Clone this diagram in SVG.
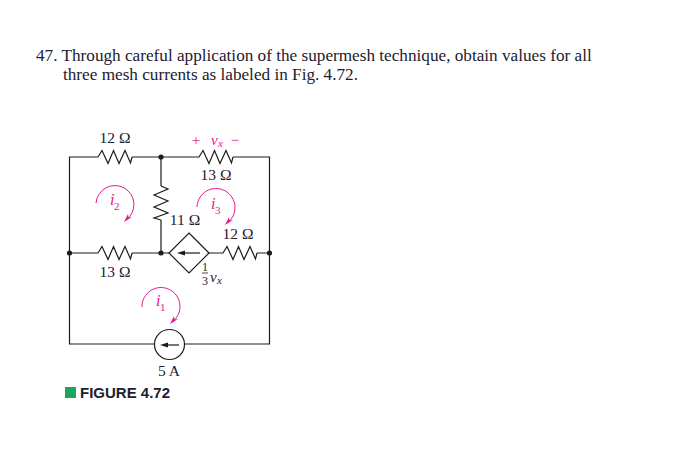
<svg xmlns="http://www.w3.org/2000/svg" width="675" height="466" viewBox="0 0 675 466">
<style>
text{font-family:"Liberation Serif","Times New Roman",serif;fill:#1d2030}
.body{font-size:17.2px}
.val{font-size:15.500px}
.m{fill:#e6168c;font-style:italic;font-size:16px}
.sub{fill:#e6168c;font-size:11px}
.w{fill:none;stroke:#1c1c1c;stroke-width:1.2}
.loop{fill:none;stroke:#e6168c;stroke-width:1}
.ah{fill:#e6168c;stroke:none}
.dot{fill:#1c1c1c}
</style>
<defs>
<path id="rh" class="w" d="M0 0H1L5-6.500 11 6.500 16.500-6.500 22 6.500 28-6.500 33.500 6 35 0"/>
</defs>
<rect width="675" height="466" fill="#fff"/>
<text class="body" x="36" y="61">47. Through careful application of the supermesh technique, obtain values for all</text>
<text class="body" x="63" y="80">three mesh currents as labeled in Fig. 4.72.</text>
<g id="connectors">
<path class="w" d="M97 157H69.500V344H155M132 157H198M233 157H269.500V344H185M69.500 253H97M132 253H169M209 253H222M257 253H269.500M161 157V186M161 220V253"/>
</g>
<g id="R1"><use href="#rh" x="97" y="157"/><text class="val" x="115" y="143" text-anchor="middle">12 Ω</text></g>
<g id="R2"><use href="#rh" x="198" y="157"/><text class="val" x="216" y="180" text-anchor="middle">13 Ω</text></g>
<g id="R3"><path class="w" d="M161 186L168 189 154 195 168 201 154 207 168 213 154 218 161 220"/><text class="val" x="185" y="225" text-anchor="middle">11 Ω</text></g>
<g id="R4"><use href="#rh" x="97" y="253"/><text class="val" x="115" y="277" text-anchor="middle">13 Ω</text></g>
<g id="R5"><use href="#rh" x="222" y="253"/><text class="val" x="238" y="239" text-anchor="middle">12 Ω</text></g>
<g id="nodes">
<circle class="dot" cx="69.500" cy="253" r="2.600"/><circle class="dot" cx="161" cy="157" r="2.600"/><circle class="dot" cx="161" cy="253" r="2.600"/><circle class="dot" cx="269.500" cy="253" r="2.600"/>
</g>
<g id="dep">
<path class="w" d="M189 233L209 253 189 273 169 253Z"/>
<path class="w" d="M181 253H200"/><path fill="#1c1c1c" d="M177 253L185 250.500 185 255.500Z"/>
<text x="205" y="271" text-anchor="middle" style="font-size:12px">1</text>
<path stroke="#1c1c1c" stroke-width="0.800" d="M202 273H208"/>
<text x="205" y="285" text-anchor="middle" style="font-size:12px">3</text>
<text x="210" y="282" style="font-size:15px;font-style:italic">v</text><text x="217" y="284" style="font-size:11px;font-style:italic">x</text>
</g>
<g id="source">
<circle class="w" cx="169.500" cy="344.500" r="15"/>
<path class="w" d="M164 345H179"/><path fill="#1c1c1c" d="M160 345L168 342.500 168 347.500Z"/>
<text class="val" x="169" y="376" text-anchor="middle">5 A</text>
</g>
<g id="vx">
<text x="196" y="145" text-anchor="middle" style="fill:#e6168c;font-size:15px">+</text>
<text x="211" y="145" class="m" style="font-size:15px">v</text><text x="218" y="147" class="m" style="font-size:11px">x</text>
<text x="235" y="145" text-anchor="middle" style="fill:#e6168c;font-size:15px">−</text>
</g>
<g id="loop2"><path class="loop" d="M96 203A19 19 0 1 1 126 220"/><path class="ah" d="M124 222L128 214 128.500 217.500 132 217Z"/><text class="m" x="110" y="205">i</text><text class="sub" x="114" y="210">2</text></g>
<g id="loop3"><path class="loop" d="M197 207A19 19 0 1 1 227 223"/><path class="ah" d="M225 225L229 217 229.500 220.500 233 220Z"/><text class="m" x="211" y="209">i</text><text class="sub" x="215" y="214">3</text></g>
<g id="loop1"><path class="loop" d="M142 307A19 19 0 1 1 172 322"/><path class="ah" d="M170 324L174 316 174.500 319.500 178 319Z"/><text class="m" x="156" y="306">i</text><text class="sub" x="160" y="311">1</text></g>
<g id="caption">
<rect x="65" y="387" width="11" height="11" fill="#1fa45a"/>
<text x="80" y="398" style="font-family:'Liberation Sans',Arial,sans-serif;font-weight:700;font-size:15px">FIGURE 4.72</text>
</g>
</svg>
